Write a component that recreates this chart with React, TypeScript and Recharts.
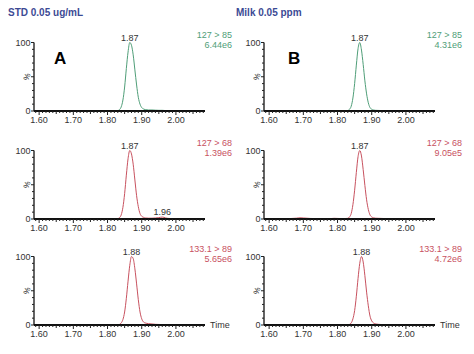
import { LineChart, Line, XAxis, YAxis, ReferenceDot } from "recharts";

// retention time grid (min) shared by all traces
const timeGrid = [
  1.6, 1.62, 1.64, 1.66, 1.68, 1.69, 1.7, 1.72, 1.74, 1.76, 1.78, 1.79, 1.8, 1.82, 1.83, 1.835, 1.84, 1.845, 1.85, 1.855,
  1.86, 1.865, 1.87, 1.875, 1.88, 1.885, 1.89, 1.895, 1.9, 1.905, 1.91, 1.92, 1.93, 1.94, 1.95, 1.955, 1.96, 1.965, 1.97,
  1.98, 2.0,
];

const n = null;
// relative intensity (%), STD 0.05 ug/mL
const stdMrm1 = [n, n, n, n, n, n, n, n, n, n, n, n, n, n, 0.5, 2, 6, 16, 35, 62, 86, 100, 96, 82, 60, 38, 20, 10, 5, 3, 2, 1.5, 1.5, 1.2, 1, 1, 1, 0.8, 0.6, 0.3, n];
const stdMrm2 = [n, n, n, n, n, n, n, n, n, n, n, n, n, n, 0.5, 2, 6, 17, 37, 64, 88, 100, 95, 80, 57, 34, 18, 8, 4, 2.5, 1.5, 1.2, 1.2, 1.5, 2, 2.5, 2.8, 2.4, 1.5, 0.8, 0.3];
const stdMrm3 = [n, n, n, n, n, n, n, n, n, n, n, n, n, n, n, 1, 3, 8, 19, 39, 64, 87, 100, 97, 82, 60, 37, 19, 9, 4.5, 3, 2, 1.5, 1, 0.8, 0.7, 0.6, 0.5, 0.4, 0.3, n];
// relative intensity (%), Milk 0.05 ppm
const milkMrm1 = [n, n, n, n, n, n, n, n, n, n, n, n, n, n, 0.5, 2.5, 7, 19, 40, 67, 91, 100, 89, 68, 44, 25, 12, 5, 2.5, 1.5, 1, 0.8, 0.6, 0.5, 0.3, n, n, n, n, n, n];
const milkMrm2 = [0.3, 0.4, 0.5, 0.6, 1.2, 1.8, 1.5, 0.8, 0.5, 0.4, 0.6, 1, 0.8, 0.5, 1, 3, 8, 21, 42, 68, 91, 100, 92, 72, 49, 28, 14, 6, 3, 1.8, 1.2, 1, 0.8, 0.6, 0.5, 0.5, 0.5, 0.4, 0.4, 0.3, 0.3];
const milkMrm3 = [n, n, n, n, n, n, n, n, n, n, n, n, n, n, n, 1, 3, 9, 21, 42, 68, 90, 100, 92, 72, 48, 28, 13, 6, 3, 1.8, 1, 0.6, 0.4, 0.3, n, n, n, n, n, n];

const sampleTitles = ["STD 0.05 ug/mL", "Milk 0.05 ppm"];
const panelLetters = ["A", "B"];
const transitions = ["127 > 85", "127 > 68", "133.1 > 89"];
const stdAreas = ["6.44e6", "1.39e6", "5.65e6"];
const milkAreas = ["4.31e6", "9.05e5", "4.72e6"];
const stdPeaks = [
  [{ t: 1.865, h: 100, label: "1.87" }],
  [{ t: 1.865, h: 100, label: "1.87" }, { t: 1.96, h: 2.8, label: "1.96" }],
  [{ t: 1.87, h: 100, label: "1.88" }],
];
const milkPeaks = [
  [{ t: 1.865, h: 100, label: "1.87" }],
  [{ t: 1.865, h: 100, label: "1.87" }],
  [{ t: 1.87, h: 100, label: "1.88" }],
];
const timeLabels = [1.6, 1.7, 1.8, 1.9, 2.0];
const percentTicks = [0, 10, 20, 30, 40, 50, 60, 70, 80, 90, 100];

const GREEN = "#4f9e78";
const RED = "#c8525f";
const traceColors = [GREEN, RED, RED];
const FONT = '"Liberation Sans", Arial, sans-serif';

const minorTimes: number[] = [];
for (let i = 159; i <= 208; i++) minorTimes.push(i / 100);

const XTick = (props: any) => {
  const { x, y, payload } = props;
  const hund = Math.round(payload.value * 100);
  const isLabel = timeLabels.some((v) => Math.round(v * 100) === hund);
  const len = isLabel ? 4 : hund % 5 === 0 ? 3 : 2;
  return (
    <g>
      <line x1={x} x2={x} y1={y} y2={y + len} stroke="#222" strokeWidth={1} />
      {isLabel && (
        <text x={x} y={y + 11.5} textAnchor="middle" fontSize={9} fill="#333" fontFamily={FONT}>
          {payload.value.toFixed(2)}
        </text>
      )}
    </g>
  );
};

const YTick = (props: any) => {
  const { x, y, payload } = props;
  const v = payload.value;
  const major = v === 0 || v === 50 || v === 100;
  return (
    <g>
      <line x1={x - (major ? 3 : 2)} x2={x} y1={y} y2={y} stroke="#222" strokeWidth={1} />
      {(v === 0 || v === 100) && (
        <text x={x - 3.5} y={y + 3.2} textAnchor="end" fontSize={9} fill="#333" fontFamily={FONT}>
          {v}
        </text>
      )}
      {v === 50 && (
        <text x={x - 7} y={y} textAnchor="middle" fontSize={8} fill="#333" fontFamily={FONT} transform={`rotate(-70 ${x - 7} ${y})`} dominantBaseline="central">
          %
        </text>
      )}
    </g>
  );
};

function Trace({ left, top, values, color, peaks, transition, area, showTime }: any) {
  const data = timeGrid.map((t, i) => ({ t, v: values[i] }));
  return (
    <div style={{ position: "absolute", left, top, width: 232, height: 131 }}>
      <LineChart width={232} height={131} data={data} margin={{ top: 42.5, right: 27, bottom: 0, left: 0 }}>
        <XAxis
          type="number"
          dataKey="t"
          domain={[1.585, 2.085]}
          allowDataOverflow
          ticks={minorTimes}
          interval={0}
          tickSize={0}
          tickMargin={0}
          tickLine={false}
          tick={<XTick />}
          height={20}
          axisLine={{ stroke: "#111", strokeWidth: 1.8 }}
        />
        <YAxis
          type="number"
          domain={[0, 100]}
          ticks={percentTicks}
          interval={0}
          tickSize={0}
          tickMargin={0}
          tickLine={false}
          tick={<YTick />}
          width={34}
          axisLine={{ stroke: "#111", strokeWidth: 1.3 }}
        />
        <Line dataKey="v" type="monotone" stroke={color} strokeWidth={1} dot={false} isAnimationActive={false} connectNulls={false} />
        {peaks.map((p: any) => (
          <ReferenceDot
            key={p.label}
            x={p.t}
            y={p.h}
            r={0}
            fill="none"
            stroke="none"
            ifOverflow="visible"
            label={{ value: p.label, position: "top", offset: 2, fontSize: 9, fill: "#333", fontFamily: FONT }}
          />
        ))}
      </LineChart>
      <div
        style={{
          position: "absolute",
          right: 0,
          top: 30,
          fontSize: 9,
          lineHeight: "10px",
          color,
          textAlign: "right",
          fontFamily: FONT,
          whiteSpace: "nowrap",
        }}
      >
        <div>{transition}</div>
        <div>{area}</div>
      </div>
      {showTime && (
        <div style={{ position: "absolute", left: 210, top: 105.5, fontSize: 9, color: "#333", fontFamily: FONT }}>Time</div>
      )}
    </div>
  );
}

export default function App() {
  const stdTraces = [stdMrm1, stdMrm2, stdMrm3];
  const milkTraces = [milkMrm1, milkMrm2, milkMrm3];
  const rowTops = [0, 108, 214];
  return (
    <div style={{ position: "fixed", left: 0, top: 0, width: 474, height: 354, background: "#fff", fontFamily: FONT }}>
      {sampleTitles.map((s, i) => (
        <div
          key={s}
          style={{ position: "absolute", left: i === 0 ? 8 : 236, top: 7, fontSize: 10, fontWeight: "bold", color: "#3c4a94" }}
        >
          {s}
        </div>
      ))}
      {rowTops.map((top, r) => (
        <Trace
          key={"a" + r}
          left={0}
          top={top}
          values={stdTraces[r]}
          color={traceColors[r]}
          peaks={stdPeaks[r]}
          transition={transitions[r]}
          area={stdAreas[r]}
          showTime={r === 2}
        />
      ))}
      {rowTops.map((top, r) => (
        <Trace
          key={"b" + r}
          left={230}
          top={top}
          values={milkTraces[r]}
          color={traceColors[r]}
          peaks={milkPeaks[r]}
          transition={transitions[r]}
          area={milkAreas[r]}
          showTime={r === 2}
        />
      ))}
      {panelLetters.map((l, i) => (
        <div
          key={l}
          style={{ position: "absolute", left: i === 0 ? 54 : 288, top: 49, fontSize: 17, fontWeight: "bold", color: "#000" }}
        >
          {l}
        </div>
      ))}
    </div>
  );
}
